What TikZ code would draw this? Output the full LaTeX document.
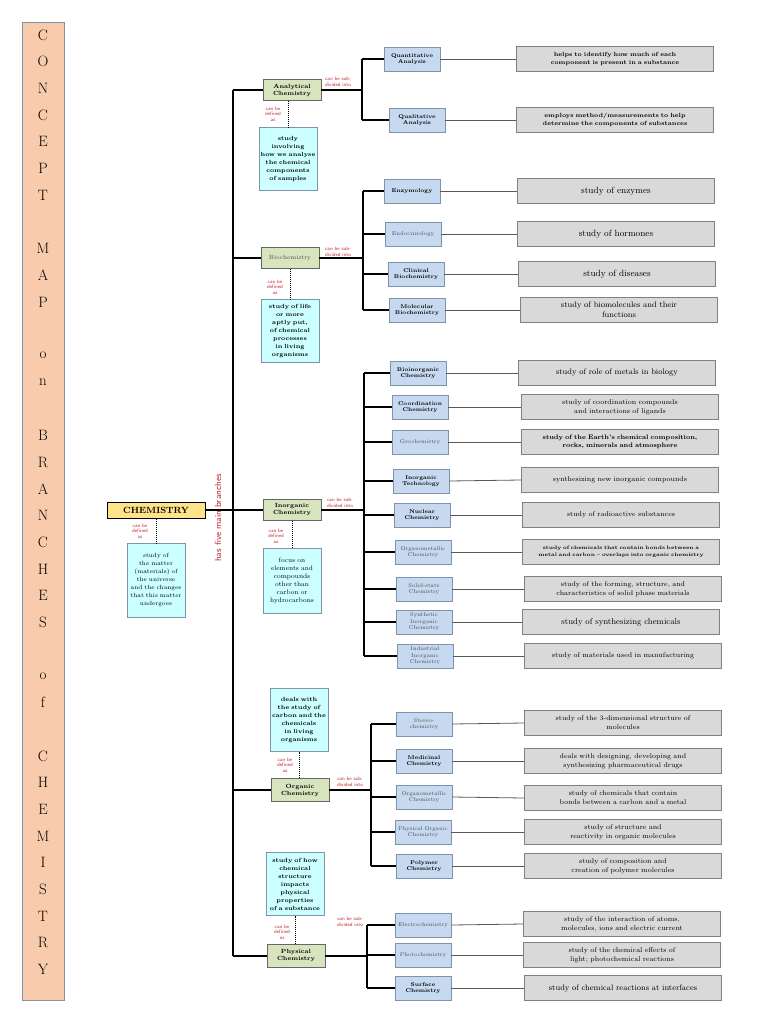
\documentclass[tikz,border=0pt]{standalone}
\usepackage{tikz}
\newcommand\myfs[2]{\fontsize{#1}{#2}\selectfont}
\AtBeginDocument{\hyphenpenalty=10000 \exhyphenpenalty=10000}
\definecolor{salmon}{HTML}{F9CBAD}
\definecolor{grn}{HTML}{D7E4BD}
\definecolor{blu}{HTML}{C6D9F0}
\definecolor{gry}{HTML}{D9D9D9}
\definecolor{cyn}{HTML}{CCFFFF}
\definecolor{ylw}{HTML}{FFE38A}
\definecolor{lbl}{HTML}{C0262D}
\definecolor{bbord}{HTML}{7F93AA}
\begin{document}
\begin{tikzpicture}[x=1pt,y=-1pt,
 branch/.style={draw=gray!80!black,fill=grn,minimum width=58pt,minimum height=21pt,inner sep=1pt,align=center,text width=56pt,font=\myfs{6}{7}\bfseries},
 sub/.style={draw=bbord,fill=blu,minimum width=56pt,minimum height=24pt,inner sep=1pt,align=center,text width=54pt,font=\myfs{5.5}{6.5}\bfseries},
 subl/.style={sub,font=\myfs{5.5}{6.5}\color{gray!60!black}},
 desc/.style={draw=gray,fill=gry,minimum width=197pt,minimum height=25pt,inner sep=1pt,align=center,text width=172pt,font=\myfs{7.5}{9}},
 def/.style={draw=bbord,fill=cyn,minimum width=58pt,minimum height=63pt,inner sep=1pt,align=center,text width=55pt,font=\myfs{6}{8}\bfseries},
 lab/.style={text=lbl,font=\sffamily\myfs{5}{5.5},align=center,inner sep=0pt},
 bus/.style={black,line width=1.2pt},
 con/.style={gray!70!black,line width=0.8pt},
 dot/.style={black,densely dotted,line width=1pt}]
\useasboundingbox (0,0) rectangle (768,1024);
% title
\node[draw=bbord,fill=salmon,minimum width=42pt,minimum height=978pt,inner sep=0pt] (title) at (43,511) {};
\foreach \l [count=\i from 0] in {C,O,N,C,E,P,T,,M,A,P,,o,n,,B,R,A,N,C,H,E,S,,o,f,,C,H,E,M,I,S,T,R,Y}
  \node[font=\myfs{15}{15}] (t\i) at (43,{35+\i*26.7}) {\l};
% root
\node[draw=black,line width=1pt,fill=ylw,minimum width=98pt,minimum height=16pt,inner sep=1pt,font=\myfs{9}{10}\bfseries] (chem) at (156,510) {CHEMISTRY};
\node[def,minimum width=58pt,minimum height=74pt,font=\myfs{6}{8}] (chemd) at (156,580) {study of the matter (materials) of the universe and the changes that this matter undergoes};
\draw[dot] (chem.south) -- (chemd.north);
\node[lab] (chl) at (140,531) {can be\\defined\\as};
\coordinate (mT) at (233,90);
\coordinate (mB) at (233,956);
\draw[bus] (mT) -- (mB);
\draw[bus] (chem.east) -- (chem.east -| mT);
\node[text=lbl,font=\sffamily\myfs{9}{9},rotate=90] (five) at (218,518) {has five main branches};
% branches
\node[branch] (an) at (292,90) {Analytical Chemistry};
\node[branch,font=\myfs{6}{7}\color{gray!60!black}] (bi) at (290,258) {Biochemistry};
\node[branch] (in) at (292,510) {Inorganic Chemistry};
\node[branch,minimum height=23pt] (or) at (300,790) {Organic Chemistry};
\node[branch,minimum height=23pt] (ph) at (296,956) {Physical Chemistry};
\foreach \b in {an,bi,in,or,ph} \draw[bus] (\b.west -| mT) -- (\b.west);
% definitions
\node[def] (and) at (288,159) {study involving how we analyse the chemical components of samples};
\node[def] (bid) at (290,331) {study of life or more aptly put, of chemical processes in living organisms};
\node[def,minimum height=65pt,font=\myfs{6.5}{8}] (ind) at (292,581) {focus on elements and compounds other than carbon or hydrocarbons};
\node[def] (ord) at (299,720) {deals with the study of carbon and the chemicals in living organisms};
\node[def] (phd) at (295,884) {study of how chemical structure impacts physical properties of a substance};
\draw[dot] (and.north |- an.south) -- (and.north);
\draw[dot] (bid.north |- bi.south) -- (bid.north);
\draw[dot] (ind.north |- in.south) -- (ind.north);
\draw[dot] (ord.south |- or.north) -- (ord.south);
\draw[dot] (phd.south |- ph.north) -- (phd.south);
\node[lab] (l1) at (273,114) {can be\\defined\\as};
\node[lab] (l2) at (275,287) {can be\\defined\\as};
\node[lab] (l3) at (276,536) {can be\\defined\\as};
\node[lab] (l4) at (285,765) {can be\\defined\\as};
\node[lab] (l5) at (282,932) {can be\\defined\\as};
\node[lab] (s1) at (338,82) {can be sub-\\divided into};
\node[lab] (s2) at (338,252) {can be sub-\\divided into};
\node[lab] (s3) at (340,503) {can be sub-\\divided into};
\node[lab] (s4) at (350,782) {can be sub-\\divided into};
\node[lab] (s5) at (350,922) {can be sub-\\divided into};
% buses
\coordinate (aT) at (362,59); \coordinate (aB) at (362,120);
\coordinate (bT) at (363,191); \coordinate (bB) at (363,310);
\coordinate (cT) at (364,373); \coordinate (cB) at (364,656);
\coordinate (dT) at (371,724); \coordinate (dB) at (371,866);
\coordinate (eT) at (367,925); \coordinate (eB) at (367,988);
\foreach \t/\u in {aT/aB,bT/bB,cT/cB,dT/dB,eT/eB} \draw[bus] (\t) -- (\u);
\draw[bus] (an.east) -- (an.east -| aT);
\draw[bus] (bi.east) -- (bi.east -| bT);
\draw[bus] (in.east) -- (in.east -| cT);
\draw[bus] (or.east) -- (or.east -| dT);
\draw[bus] (ph.east) -- (ph.east -| eT);
\foreach \n/\x/\y/\s/\t/\bb/\dx/\dy/\d/\f in {
 qa/412/59/sub/{Quantitative Analysis}/aT/615/59/{helps to identify how much of each component is present in a substance}/{\myfs{6}{7.5}\bfseries},
 ql/417/120/sub/{Qualitative Analysis}/aT/615/120/{employs method/measurements to help determine the components of substances}/{\myfs{6}{7.5}\bfseries},
 en/412/191/sub/{Enzymology}/bT/616/191/{study of enzymes}/{\myfs{9}{10}},
 ec/413/234/subl/{Endocrinology}/bT/616/234/{study of hormones}/{\myfs{9}{10}},
 cb/416/274/sub/{Clinical Biochemistry}/bT/617/274/{study of diseases}/{\myfs{9}{10}},
 mb/417/310/sub/{Molecular Biochemistry}/bT/619/310/{study of biomolecules and their\\functions}/{\myfs{8}{10}},
 bo/418/373/sub/{Bioinorganic Chemistry}/cT/617/373/{study of role of metals in biology}/{\myfs{8}{10}},
 co/420/407/sub/{Coordination Chemistry}/cT/620/407/{study of coordination compounds and interactions of ligands}/{\myfs{7}{9}},
 ge/420/442/subl/{Geochemistry}/cT/620/442/{study of the Earth's chemical composition, rocks, minerals and atmosphere}/{\myfs{6.5}{8.5}\bfseries},
 it/421/481/sub/{Inorganic Technology}/cT/620/480/{synthesizing new inorganic compounds}/{\myfs{7}{9}},
 nu/422/515/sub/{Nuclear Chemistry}/cT/621/515/{study of radioactive substances}/{\myfs{7}{9}},
 om/423/552/subl/{Organometallic Chemistry}/cT/621/552/{study of chemicals that contain bonds between a metal and carbon -- overlaps into organic chemistry}/{\myfs{5}{7}\bfseries},
 ss/424/589/subl/{Solid-state Chemistry}/cT/623/589/{study of the forming, structure, and characteristics of solid phase materials}/{\myfs{7}{9}},
 si/424/622/subl/{Synthetic Inorganic Chemistry}/cT/621/622/{study of synthesizing chemicals}/{\myfs{8.5}{10}},
 ii/425/656/subl/{Industrial Inorganic Chemistry}/cT/623/656/{study of materials used in manufacturing}/{\myfs{7}{9}},
 st/424/724/subl/{Stereo-\\chemistry}/dT/623/723/{study of the 3-dimensional structure of\\molecules}/{\myfs{7}{9}},
 me/424/761/sub/{Medicinal Chemistry}/dT/623/761/{deals with designing, developing and synthesizing pharmaceutical drugs}/{\myfs{7}{9}},
 og/424/797/subl/{Organometallic Chemistry}/dT/623/798/{study of chemicals that contain bonds between a carbon and a metal}/{\myfs{7}{9}},
 po/423/832/subl/{Physical Organic Chemistry}/dT/623/832/{study of structure and reactivity in organic molecules}/{\myfs{7}{9}},
 pm/424/866/sub/{Polymer Chemistry}/dT/623/866/{study of composition and creation of polymer molecules}/{\myfs{7}{9}},
 el/423/925/subl/{Electrochemistry}/eT/622/924/{study of the interaction of atoms, molecules, ions and electric current}/{\myfs{7}{9}},
 pc/423/955/subl/{Photochemistry}/eT/622/955/{study of the chemical effects of light; photochemical reactions}/{\myfs{7}{9}},
 sc/423/988/sub/{Surface Chemistry}/eT/623/988/{study of chemical reactions at interfaces}/{\myfs{8}{10}}}
{
 \node[\s] (\n) at (\x,\y) {\t};
 \node[desc,font=\f] (\n d) at (\dx,\dy) {\d};
 \draw[bus] (\n.west -| \bb) -- (\n.west);
 \draw[con] (\n.east) -- (\n d.west);
}
\end{tikzpicture}
\end{document}
